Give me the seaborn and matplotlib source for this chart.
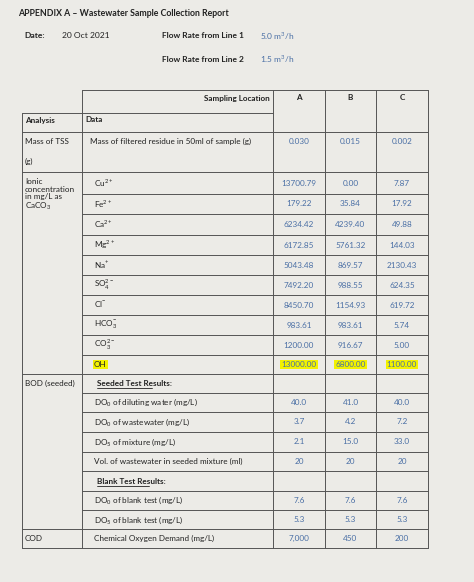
import matplotlib
matplotlib.use("Agg")
import matplotlib.pyplot as plt
import seaborn as sns

sns.set_theme(style="white")
plt.rcParams['font.family'] = ['Lato', 'DejaVu Sans']
plt.rcParams['mathtext.fontset'] = 'custom'
plt.rcParams['mathtext.rm'] = 'Lato'

# table content
row_labels = [
    "Mass of filtered residue in 50ml of sample (g)",
    "Cu$^{2+}$", "Fe$^{2+}$", "Ca$^{2+}$", "Mg$^{2+}$", "Na$^{+}$",
    "SO$_4^{2-}$", "Cl$^{-}$", "HCO$_3^{-}$", "CO$_3^{2-}$", "OH",
    "Seeded Test Results:",
    "DO$_0$ of diluting water (mg/L)", "DO$_0$ of wastewater (mg/L)",
    "DO$_5$ of mixture (mg/L)", "Vol. of wastewater in seeded mixture (ml)",
    "Blank Test Results:",
    "DO$_0$ of blank test (mg/L)", "DO$_5$ of blank test (mg/L)",
    "Chemical Oxygen Demand (mg/L)",
]
val_a = ["0.030", "13700.79", "179.22", "6234.42", "6172.85", "5043.48", "7492.20",
         "8450.70", "983.61", "1200.00", "13000.00", "", "40.0", "3.7", "2.1", "20",
         "", "7.6", "5.3", "7,000"]
val_b = ["0.015", "0.00", "35.84", "4239.40", "5761.32", "869.57", "988.55",
         "1154.93", "983.61", "916.67", "6800.00", "", "41.0", "4.2", "15.0", "20",
         "", "7.6", "5.3", "450"]
val_c = ["0.002", "7.87", "17.92", "49.88", "144.03", "2130.43", "624.35",
         "619.72", "5.74", "5.00", "1100.00", "", "40.0", "7.2", "33.0", "20",
         "", "7.6", "5.3", "200"]
groups = [("Mass of TSS", 0, 1), ("Ionic\nconcentration\nin mg/L as\nCaCO$_3$", 1, 11),
          ("BOD (seeded)", 11, 19), ("COD", 19, 20)]
highlight_row = 10
bold_rows = [11, 16]

# row boundaries in pixels
row_y = [132, 172, 194, 214, 235, 255, 275, 295, 315, 335, 355, 374,
         393, 412, 432, 452, 471, 491, 510, 529, 548]
col_x = [22, 82, 273, 325, 376, 428]

fig = plt.figure(figsize=(4.74, 5.82), dpi=100)
fig.patch.set_facecolor("#ecebe7")
ax = fig.add_axes([0, 0, 1, 1])
ax.set_xlim(0, 474)
ax.set_ylim(582, 0)
ax.axis("off")
ax.set_facecolor("#ecebe7")

lc = "#555555"
lw = 0.7
blue = "#4a6fa5"
dark = "#222222"
fs = 5.9

ax.text(18, 13, "APPENDIX A – Wastewater Sample Collection Report", fontsize=6.3,
        fontweight="bold", color=dark, va="center")
ax.text(24, 36, "Date:", fontsize=6.1, fontweight="bold", color=dark, va="center")
ax.text(62, 36, "20 Oct 2021", fontsize=6.1, color=dark, va="center")
ax.text(162, 36, "Flow Rate from Line 1", fontsize=6, fontweight="bold", color=dark, va="center")
ax.text(260, 36, "5.0 m$^3$/h", fontsize=6, color=blue, va="center")
ax.text(162, 59, "Flow Rate from Line 2", fontsize=6, fontweight="bold", color=dark, va="center")
ax.text(260, 59, "1.5 m$^3$/h", fontsize=6, color=blue, va="center")

# header
ax.plot([82, 428], [90, 90], color=lc, lw=lw)
ax.plot([22, 273], [113, 113], color=lc, lw=lw)
ax.plot([22, 22], [113, 132], color=lc, lw=lw)
for x in col_x[1:]:
    ax.plot([x, x], [90, 132], color=lc, lw=lw)
ax.text(270, 99, "Sampling Location", fontsize=fs, fontweight="bold", color=dark, ha="right", va="center")
for x0, x1, lab in [(273, 325, "A"), (325, 376, "B"), (376, 428, "C")]:
    ax.text((x0 + x1) / 2, 98, lab, fontsize=fs, fontweight="bold", color=dark, ha="center", va="center")
ax.text(25, 120, "Analysis", fontsize=fs, fontweight="bold", color=dark, va="center")
ax.text(85, 120, "Data", fontsize=fs, fontweight="bold", color=dark, va="center")

# body
ax.plot([22, 428], [132, 132], color=lc, lw=lw)
for x in col_x:
    ax.plot([x, x], [132, row_y[-1]], color=lc, lw=lw)
for i in range(len(row_labels)):
    y0, y1 = row_y[i], row_y[i + 1]
    ax.plot([82, 428], [y1, y1], color=lc, lw=lw)
    yc = y0 + 9 if i == 0 else (y0 + y1) / 2
    txt = row_labels[i]
    if i in bold_rows:
        t = ax.text(97, yc, txt, fontsize=fs, fontweight="bold", color=dark, va="center")
        ax.plot([97, 97 + len(txt) * 2.75], [yc + 4.5, yc + 4.5], color=dark, lw=0.6)
    elif i == highlight_row:
        ax.text(94, yc, txt, fontsize=fs, color=dark, va="center",
                bbox=dict(boxstyle="square,pad=0.15", fc="#f2f200", ec="none"))
    else:
        ax.text(94 if i else 90, yc, txt, fontsize=fs, color=dark, va="center")
    for x0, x1, vals in [(273, 325, val_a), (325, 376, val_b), (376, 428, val_c)]:
        bb = dict(boxstyle="square,pad=0.15", fc="#f2f200", ec="none") if i == highlight_row else None
        ax.text((x0 + x1) / 2, yc, vals[i], fontsize=fs, color=blue, ha="center", va="center", bbox=bb)
for name, s, e in groups:
    ax.plot([22, 82], [row_y[e], row_y[e]], color=lc, lw=lw)
    ya = row_y[s] + 9
    if s == 0:
        ax.text(25, ya, "Mass of TSS", fontsize=fs, color=dark, va="center")
        ax.text(25, ya + 20, "(g)", fontsize=fs, color=dark, va="center")
    else:
        ax.text(25, ya - 3, name, fontsize=fs, color=dark, va="top", linespacing=1.1)

fig.savefig("out.png", dpi=100, facecolor=fig.get_facecolor())
